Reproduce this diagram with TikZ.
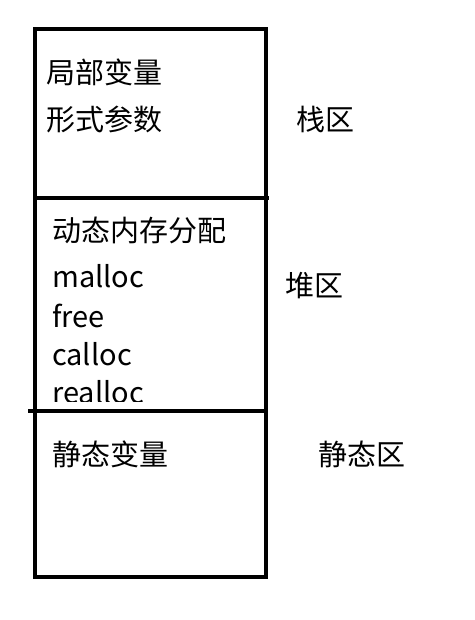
\documentclass[tikz,border=0pt]{standalone}
\usepackage{fontspec}
\setmainfont{Noto Sans CJK SC}
\begin{document}
\begin{tikzpicture}[x=1pt,y=-1pt,
  txt/.style={anchor=base west,inner sep=0pt,font=\fontsize{29}{34}\selectfont},
  frame/.style={line width=4pt,line cap=rect}]
\useasboundingbox (0,0) rectangle (474,620);
\fill[white] (0,0) rectangle (474,620);
% frame
\coordinate (tl) at (35,29);
\coordinate (tr) at (266,29);
\coordinate (bl) at (35,577);
\coordinate (br) at (266,577);
\coordinate (d1l) at (35,198);
\coordinate (d1r) at (267,198);
\coordinate (d2l) at (28,411);
\coordinate (d2m) at (208,411);
\coordinate (d2r) at (268,411);
% texts
\node[txt] (v1) at (46,84) {局部变量};
\node[txt] (v2) at (46,131) {形式参数};
\node[txt] (s) at (296,131) {栈区};
\node[txt] (h0) at (52,241) {动态内存分配};
\node[txt] (h1) at (52,287) {malloc};
\node[txt] (h2) at (52,327) {free};
\node[txt] (h3) at (52,365) {calloc};
\begin{scope}
\clip (0,0) rectangle (474,401);
\node[txt] (h4) at (52,403) {realloc};
\end{scope}
\node[txt] (hp) at (285,296) {堆区};
\node[txt] (st) at (52,465) {静态变量};
\node[txt] (sz) at (318,465) {静态区};
% lines
\draw[frame] (tl) -- (tr) -- (br) -- (bl) -- cycle;
\draw[frame] (d1l) -- (d1r);
\draw[line width=4pt] (d2l) -- (d2m);
\draw[line width=3.5pt] (d2m) -- (d2r);
\end{tikzpicture}
\end{document}
